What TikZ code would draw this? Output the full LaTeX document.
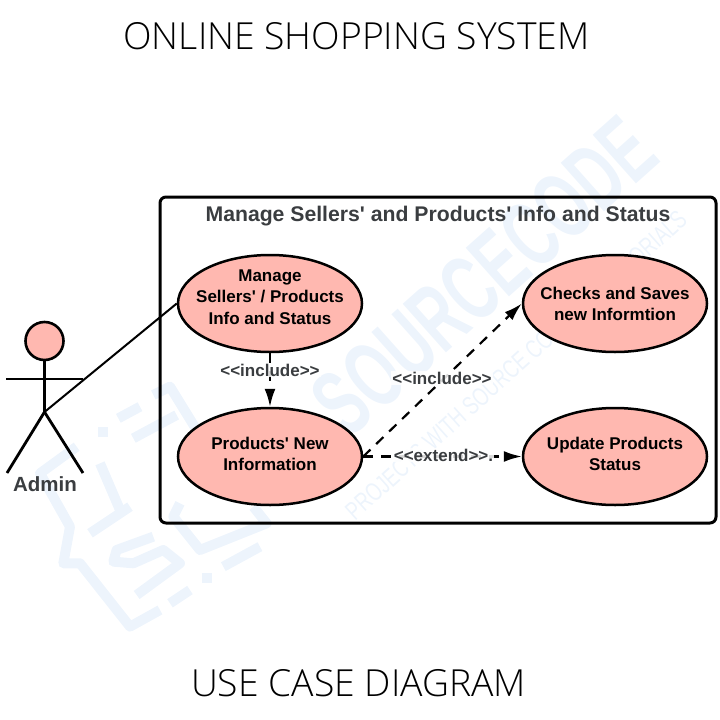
\documentclass[tikz,border=0pt]{standalone}
\usepackage{fontspec}
\usepackage{graphicx}
\setmainfont{Liberation Sans}[Ligatures=TeXOff]
\newfontfamily\lightfont[UprightFont={* Light}]{Open Sans}
\usetikzlibrary{shapes.geometric,arrows.meta}
\definecolor{ucfill}{HTML}{FFB8B0}
\definecolor{labelgray}{HTML}{3A3D40}
\definecolor{wmark}{HTML}{EDF4FC}
\newcommand\uclines[2]{\makebox[0pt]{\raisebox{#1}[0pt][0pt]{\renewcommand\arraystretch{1.03}\begin{tabular}{@{}c@{}}#2\end{tabular}}}}
\tikzset{
  uc/.style={ellipse,draw=black,fill=ucfill,line width=2.5pt,minimum width=184pt,minimum height=97pt,inner sep=0pt,
    font=\fontsize{17}{20.5}\selectfont\bfseries},
  rel/.style={draw=black,line width=2.2pt,dash pattern=on 10pt off 8pt,-{Latex[length=18pt,width=11pt]}},
  rellabel/.style={fill=white,fill opacity=.85,text opacity=1,text=labelgray,inner xsep=1pt,inner ysep=1pt,font=\fontsize{17}{20}\selectfont\bfseries},
  limb/.style={draw=black,line width=2.8pt},
  wm/.style={draw=wmark,line width=10pt,line join=round},
  heading/.style={font=\fontsize{37.3}{41}\lightfont,text=black,inner sep=0pt},
}
\begin{document}
\begin{tikzpicture}[x=1pt,y=-1pt]
\useasboundingbox (0,0) rectangle (720,720);
% watermark
\node[text=wmark,rotate=41.7,inner sep=0pt] (wmbig) at (484,276) {\resizebox{420pt}{66pt}{\bfseries SOURCECODE}};
\node[text=wmark,rotate=41.9,inner sep=0pt] (wmsmall) at (516,365) {\resizebox{448pt}{18pt}{PROJECTS WITH SOURCE CODE AND TUTORIALS}};
\begin{scope}[shift={(20,360)},x=.3333pt,y=-.3333pt]
\draw[wm] (170,260) -- (60,340) -- (150,500) -- (130,610) -- (180,610) -- (330,800) -- (420,750);
\draw[wm] (235,215) -- (265,215);
\draw[wm] (295,175) -- (360,140);
\draw[wm] (340,235) -- (470,165);
\draw[wm] (400,105) -- (450,80) -- (530,210);
\draw[wm] (210,520) -- (330,440);
\draw[wm] (240,310) -- (300,450);
\draw[wm] (400,530) -- (290,570) -- (280,605) -- (340,610) -- (430,570) -- (480,610) -- (350,705);
\draw[wm] (480,430) -- (460,470) -- (540,570) -- (740,490) -- (700,440);
\draw[wm] (450,730) -- (510,690);
\draw[wm] (545,655) -- (575,655);
\draw[wm] (610,620) -- (720,560);
\end{scope}
% headings
\node[heading] (title) at (356.5,36) {ONLINE SHOPPING SYSTEM};
\node[heading] (foot) at (358.5,683) {USE CASE DIAGRAM};
% system boundary
\node[draw=black,line width=3pt,rounded corners=6pt,minimum width=556pt,minimum height=326pt,inner sep=0pt] (sys) at (438,360) {};
\node[text=labelgray,font=\fontsize{21.2}{24}\selectfont\bfseries,inner sep=0pt] (systitle) at (438,216) {Manage Sellers' and Products' Info and Status};
% use cases
\node[uc] (manage) at (270,303.5) {\uclines{.5pt}{Manage\\Sellers' / Products\\Info and Status}};
\node[uc] (newinfo) at (270,456.5) {\uclines{-4pt}{Products' New\\Information}};
\node[uc] (checks) at (615,303.5) {\uclines{-6.5pt}{Checks and Saves\\new Informtion}};
\node[uc] (update) at (615,456.5) {\uclines{-4pt}{Update Products\\Status}};
% actor
\node[circle,draw=black,fill=ucfill,line width=2.6pt,minimum size=38pt,inner sep=0pt] (head) at (44.5,341) {};
\coordinate (hip) at (44.5,412);
\coordinate (armL) at (6,379);
\coordinate (armR) at (83,379);
\coordinate (footL) at (7,473);
\coordinate (footR) at (83,473);
\draw[limb] (head.south) -- (hip);
\draw[limb] (armL) -- (armR);
\draw[limb] (hip) -- (footL);
\draw[limb] (hip) -- (footR);
\node[text=labelgray,font=\fontsize{20.5}{24}\selectfont\bfseries,inner sep=0pt] (admin) at (45,484) {Admin};
% connectors
\draw[draw=black,line width=2pt] (hip) -- (manage.west);
\draw[rel] (manage.south) -- (newinfo.north);
\node[rellabel] (inc1) at (270,370) {<<include>>};
\draw[rel] (newinfo.east) -- (checks.west);
\node[rellabel] (inc2) at (442,378) {<<include>>};
\draw[rel] (newinfo.east) -- (update.west);
\node[rellabel] (ext) at (443.5,455) {<<extend>>.};
\end{tikzpicture}
\end{document}
